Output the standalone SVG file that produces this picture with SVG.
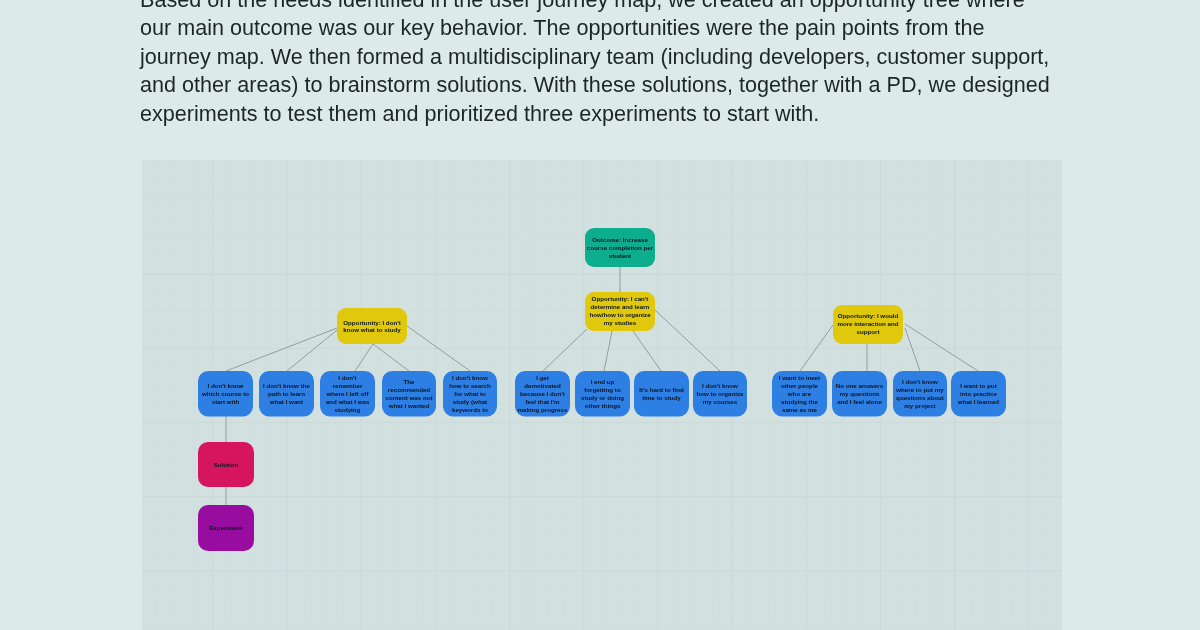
<svg xmlns="http://www.w3.org/2000/svg" width="1200" height="630" viewBox="0 0 1200 630">
<style>
.p{font:21.6px "Liberation Sans",Arial,sans-serif;fill:#1c2626}
.n text{font:bold 6.2px "Liberation Sans",Arial,sans-serif;fill:#0d1420;text-anchor:middle}
.b rect{fill:#2f7fe3}.y rect{fill:#e0c90f}.g rect{fill:#0fae8e}.r rect{fill:#d5155f}.v rect{fill:#980fa0}
#connectors line{stroke:#8a9695;stroke-width:0.9}
</style>
<defs>
<filter id="s" x="-5%" y="-20%" width="110%" height="140%"><feGaussianBlur stdDeviation="0.5"/></filter>
<filter id="d" x="-5%" y="-5%" width="110%" height="110%"><feGaussianBlur stdDeviation="0.6"/></filter>
<pattern id="minor" width="18.55" height="18.55" patternUnits="userSpaceOnUse" x="139" y="52"><path d="M18.55 0V18.55H0" fill="none" stroke="#cbd9d8" stroke-width="0.7"/></pattern>
<pattern id="major" width="74.2" height="74.2" patternUnits="userSpaceOnUse" x="139" y="52"><path d="M74.2 0V74.2H0" fill="none" stroke="#c6d5d4" stroke-width="0.9"/></pattern>
</defs>
<rect width="1200" height="630" fill="#dcebea"/>
<g id="text" filter="url(#s)">
<text class="p" x="140" y="6.500">Based on the needs identified in the user journey map, we created an opportunity tree where</text>
<text class="p" x="140" y="35">our main outcome was our key behavior. The opportunities were the pain points from the</text>
<text class="p" x="140" y="63.500">journey map. We then formed a multidisciplinary team (including developers, customer support,</text>
<text class="p" x="140" y="92">and other areas) to brainstorm solutions. With these solutions, together with a PD, we designed</text>
<text class="p" x="140" y="120.500">experiments to test them and prioritized three experiments to start with.</text>
</g>
<g filter="url(#d)">
<g id="panel">
<rect x="142" y="160" width="920" height="470" fill="#d2e0df"/>
<rect x="142" y="160" width="920" height="470" fill="url(#minor)"/>
<rect x="142" y="160" width="920" height="470" fill="url(#major)"/>
</g>
<g id="connectors">
<line x1="620" y1="267" x2="620" y2="292"/>
<line x1="337" y1="328" x2="226" y2="371"/>
<line x1="337" y1="330" x2="287" y2="371"/>
<line x1="373" y1="344" x2="355" y2="371"/>
<line x1="373" y1="344" x2="409" y2="371"/>
<line x1="407" y1="326" x2="470" y2="371"/>
<line x1="587" y1="329" x2="543" y2="371"/>
<line x1="612" y1="331" x2="604" y2="371"/>
<line x1="633" y1="331" x2="661" y2="371"/>
<line x1="655" y1="310" x2="720" y2="371"/>
<line x1="833" y1="325" x2="800" y2="371"/>
<line x1="867" y1="344" x2="867" y2="371"/>
<line x1="905" y1="328" x2="920" y2="371"/>
<line x1="905" y1="324" x2="978" y2="371"/>
<line x1="226" y1="416" x2="226" y2="442"/>
<line x1="226" y1="487" x2="226" y2="505"/>
</g>
<g id="outcome" class="n g"><rect x="585" y="228" width="70" height="39" rx="9"/><text x="620" y="241.500">Outcome: Increase</text><text x="620" y="249.500">course completion per</text><text x="620" y="257.500">student</text></g>
<g id="opp-study" class="n y"><rect x="337" y="308" width="70" height="36" rx="9"/><text x="372" y="324.500">Opportunity: I don't</text><text x="372" y="332">know what to study</text></g>
<g id="opp-organize" class="n y"><rect x="585" y="292" width="70" height="39" rx="9"/><text x="620" y="300.500">Opportunity: I can't</text><text x="620" y="308.500">determine and learn</text><text x="620" y="316.500">how/how to organize</text><text x="620" y="324.500">my studies</text></g>
<g id="opp-support" class="n y"><rect x="833" y="305" width="70" height="39" rx="9"/><text x="868" y="318">Opportunity: I would</text><text x="868" y="326">more interaction and</text><text x="868" y="334">support</text></g>
<g id="b1" class="n b"><rect x="198" y="371" width="55" height="45.500" rx="10"/><text x="225.500" y="388">I don't know</text><text x="225.500" y="396">which course to</text><text x="225.500" y="404">start with</text></g>
<g id="b2" class="n b"><rect x="259" y="371" width="55" height="45.500" rx="10"/><text x="286.500" y="388">I don't know the</text><text x="286.500" y="396">path to learn</text><text x="286.500" y="404">what I want</text></g>
<g id="b3" class="n b"><rect x="320" y="371" width="55" height="45.500" rx="10"/><text x="347.500" y="380">I don't</text><text x="347.500" y="388">remember</text><text x="347.500" y="396">where I left off</text><text x="347.500" y="404">and what I was</text><text x="347.500" y="412">studying</text></g>
<g id="b4" class="n b"><rect x="382" y="371" width="54" height="45.500" rx="10"/><text x="409" y="384">The</text><text x="409" y="392">recommended</text><text x="409" y="400">content was not</text><text x="409" y="408">what I wanted</text></g>
<g id="b5" class="n b"><rect x="443" y="371" width="54" height="45.500" rx="10"/><text x="470" y="380">I don't know</text><text x="470" y="388">how to search</text><text x="470" y="396">for what to</text><text x="470" y="404">study (what</text><text x="470" y="412">keywords to</text></g>
<g id="b6" class="n b"><rect x="515" y="371" width="55" height="45.500" rx="10"/><text x="542.500" y="380">I get</text><text x="542.500" y="388">demotivated</text><text x="542.500" y="396">because I don't</text><text x="542.500" y="404">feel that I'm</text><text x="542.500" y="412">making progress</text></g>
<g id="b7" class="n b"><rect x="575" y="371" width="55" height="45.500" rx="10"/><text x="602.500" y="384">I end up</text><text x="602.500" y="392">forgetting to</text><text x="602.500" y="400">study or doing</text><text x="602.500" y="408">other things</text></g>
<g id="b8" class="n b"><rect x="634" y="371" width="55" height="45.500" rx="10"/><text x="661.500" y="392">It's hard to find</text><text x="661.500" y="400">time to study</text></g>
<g id="b9" class="n b"><rect x="693" y="371" width="54" height="45.500" rx="10"/><text x="720" y="388">I don't know</text><text x="720" y="396">how to organize</text><text x="720" y="404">my courses</text></g>
<g id="b10" class="n b"><rect x="772" y="371" width="55" height="45.500" rx="10"/><text x="799.500" y="380">I want to meet</text><text x="799.500" y="388">other people</text><text x="799.500" y="396">who are</text><text x="799.500" y="404">studying the</text><text x="799.500" y="412">same as me</text></g>
<g id="b11" class="n b"><rect x="832" y="371" width="55" height="45.500" rx="10"/><text x="859.500" y="388">No one answers</text><text x="859.500" y="396">my questions</text><text x="859.500" y="404">and I feel alone</text></g>
<g id="b12" class="n b"><rect x="893" y="371" width="54" height="45.500" rx="10"/><text x="920" y="384">I don't know</text><text x="920" y="392">where to put my</text><text x="920" y="400">questions about</text><text x="920" y="408">my project</text></g>
<g id="b13" class="n b"><rect x="951" y="371" width="55" height="45.500" rx="10"/><text x="978.500" y="388">I want to put</text><text x="978.500" y="396">into practice</text><text x="978.500" y="404">what I learned</text></g>
<g id="solution" class="n r"><rect x="198" y="442" width="56" height="45" rx="10"/><text x="226" y="466.500">Solution</text></g>
<g id="experiment" class="n v"><rect x="198" y="505" width="56" height="46" rx="10"/><text x="226" y="530">Experiment</text></g>
</g>
</svg>
